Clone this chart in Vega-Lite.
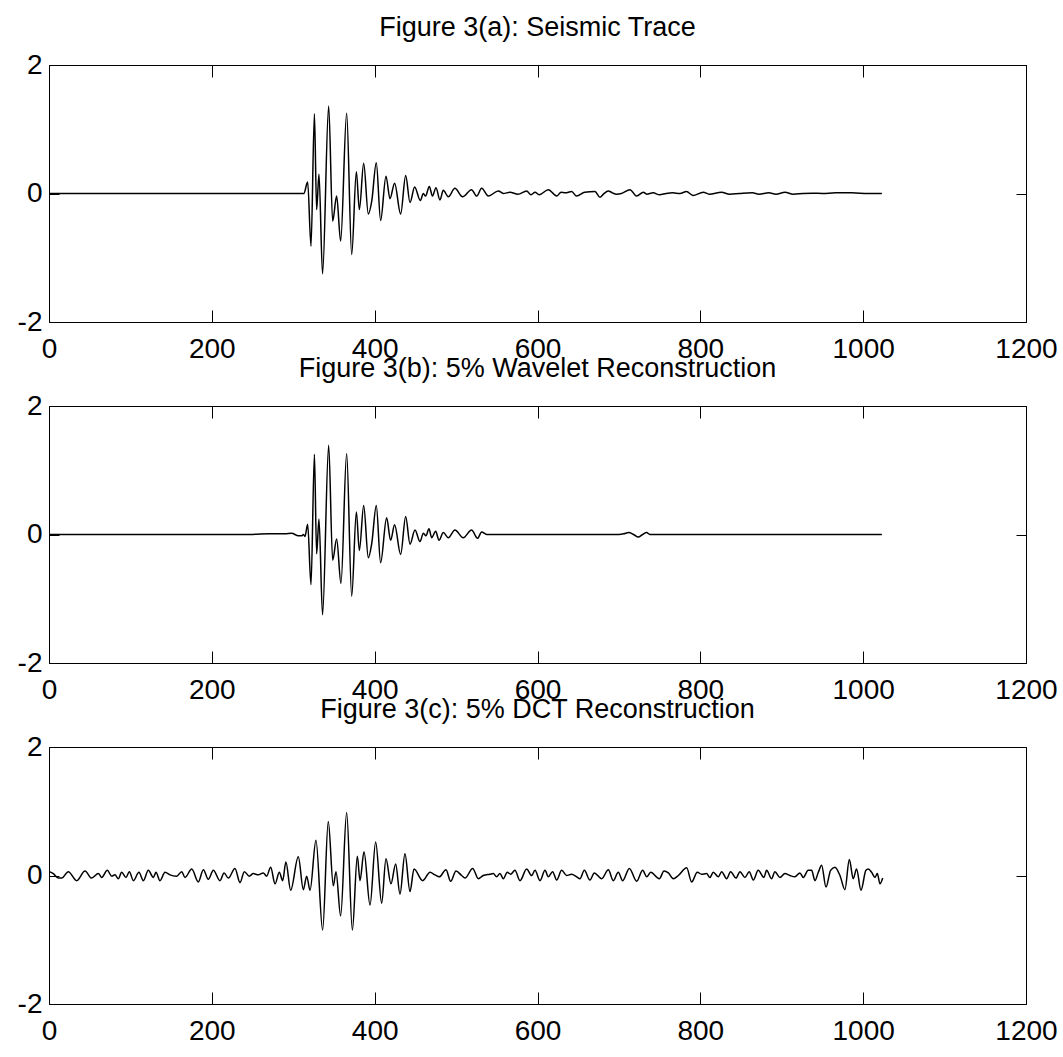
{
  "$schema": "https://vega.github.io/schema/vega-lite/v6.json",
  "background": "white",
  "padding": {"left": 16, "top": 13, "right": 5, "bottom": 5},
  "bounds": "flush",
  "spacing": 84,
  "config": {
    "view": {"stroke": "black", "strokeWidth": 1},
    "font": "Liberation Sans, Arial, sans-serif",
    "axis": {
      "domain": false,
      "grid": false,
      "tickColor": "black",
      "tickWidth": 1,
      "labelColor": "black",
      "labelFontSize": 28,
      "labelFont": "Liberation Sans, Arial, sans-serif",
      "labelFlush": false,
      "labelOverlap": false,
      "labelExpr": "'' + datum.value",
      "title": null
    },
    "title": {
      "font": "Liberation Sans, Arial, sans-serif",
      "fontSize": 27,
      "fontWeight": "normal",
      "color": "black",
      "anchor": "middle",
      "frame": "group",
      "baseline": "alphabetic",
      "offset": 9
    }
  },
  "datasets": {
    "a": [
      {"x": 0, "y": 0}, {"x": 313, "y": 0}, {"x": 317.7, "y": 0.18}, {"x": 321.8, "y": -0.82}, {"x": 326, "y": 1.24}, {"x": 328.7, "y": -0.25}, {"x": 331.6, "y": 0.30}, {"x": 336, "y": -1.25}, {"x": 343.5, "y": 1.36}, {"x": 348.4, "y": -0.43}, {"x": 353.3, "y": -0.04}, {"x": 358.2, "y": -0.74}, {"x": 365.6, "y": 1.25}, {"x": 371.8, "y": -0.95}, {"x": 377.5, "y": 0.34}, {"x": 381.2, "y": -0.25}, {"x": 386.5, "y": 0.47}, {"x": 392.2, "y": -0.32}, {"x": 396.4, "y": -0.12}, {"x": 402, "y": 0.48}, {"x": 407.3, "y": -0.42}, {"x": 413.9, "y": 0.27}, {"x": 418.8, "y": -0.08}, {"x": 424.5, "y": 0.16}, {"x": 431.9, "y": -0.32}, {"x": 438.1, "y": 0.28}, {"x": 443.4, "y": -0.14}, {"x": 449.1, "y": 0.10}, {"x": 456.1, "y": -0.11}, {"x": 459.8, "y": 0}, {"x": 462.5, "y": -0.04}, {"x": 467.1, "y": 0.11}, {"x": 471, "y": -0.04}, {"x": 475.3, "y": 0.09}, {"x": 480.2, "y": -0.10}, {"x": 484.3, "y": 0.05}, {"x": 490.4, "y": -0.05}, {"x": 498.6, "y": 0.08}, {"x": 508, "y": -0.05}, {"x": 519, "y": 0.06}, {"x": 525.3, "y": -0.04}, {"x": 531.4, "y": 0.08}, {"x": 539.6, "y": -0.04}, {"x": 551.9, "y": 0.04}, {"x": 558, "y": 0}, {"x": 566.2, "y": 0.02}, {"x": 576, "y": -0.01}, {"x": 586.7, "y": 0.04}, {"x": 592, "y": -0.02}, {"x": 597, "y": 0.02}, {"x": 602, "y": -0.02}, {"x": 613.3, "y": 0.06}, {"x": 623.5, "y": -0.04}, {"x": 629, "y": 0.02}, {"x": 634, "y": 0.01}, {"x": 642, "y": 0.03}, {"x": 648, "y": -0.04}, {"x": 658, "y": 0.02}, {"x": 670.6, "y": 0.03}, {"x": 676.7, "y": -0.06}, {"x": 681, "y": -0.01}, {"x": 687, "y": 0.04}, {"x": 692, "y": 0.01}, {"x": 697, "y": -0.01}, {"x": 703, "y": 0}, {"x": 713.6, "y": 0.06}, {"x": 721.8, "y": -0.04}, {"x": 730, "y": 0.02}, {"x": 734, "y": -0.01}, {"x": 742, "y": 0.01}, {"x": 750, "y": -0.02}, {"x": 758, "y": 0}, {"x": 766, "y": 0.01}, {"x": 775, "y": 0}, {"x": 783, "y": 0.03}, {"x": 791, "y": -0.03}, {"x": 803.6, "y": 0.02}, {"x": 811, "y": -0.01}, {"x": 826, "y": 0.02}, {"x": 836, "y": -0.01}, {"x": 848, "y": 0}, {"x": 864, "y": 0.01}, {"x": 872, "y": -0.01}, {"x": 884, "y": 0.01}, {"x": 893, "y": -0.01}, {"x": 904, "y": 0.02}, {"x": 914, "y": -0.01}, {"x": 926, "y": 0}, {"x": 938, "y": 0.005}, {"x": 950, "y": 0}, {"x": 966, "y": 0.01}, {"x": 986, "y": 0.01}, {"x": 1006, "y": 0}, {"x": 1023, "y": 0}
    ],
    "b": [
      {"x": 0, "y": 0}, {"x": 240, "y": 0}, {"x": 270, "y": 0.01}, {"x": 290, "y": 0.01}, {"x": 298, "y": 0.02}, {"x": 306.2, "y": -0.02}, {"x": 310.3, "y": -0.02}, {"x": 312.4, "y": 0}, {"x": 314.4, "y": -0.03}, {"x": 317.7, "y": 0.16}, {"x": 321.8, "y": -0.78}, {"x": 326, "y": 1.25}, {"x": 328.7, "y": -0.30}, {"x": 331.6, "y": 0.24}, {"x": 336, "y": -1.25}, {"x": 343.5, "y": 1.39}, {"x": 348.4, "y": -0.40}, {"x": 353.3, "y": -0.07}, {"x": 358.6, "y": -0.76}, {"x": 365.6, "y": 1.26}, {"x": 371.8, "y": -0.96}, {"x": 377.5, "y": 0.35}, {"x": 381.2, "y": -0.25}, {"x": 386.5, "y": 0.45}, {"x": 392.2, "y": -0.36}, {"x": 396.4, "y": -0.14}, {"x": 402, "y": 0.45}, {"x": 407.3, "y": -0.44}, {"x": 414.7, "y": 0.26}, {"x": 419.6, "y": -0.09}, {"x": 424.5, "y": 0.15}, {"x": 431.9, "y": -0.31}, {"x": 438.1, "y": 0.28}, {"x": 443.4, "y": -0.15}, {"x": 449.5, "y": 0.07}, {"x": 455.7, "y": -0.11}, {"x": 459.8, "y": 0.02}, {"x": 463, "y": -0.02}, {"x": 466.7, "y": 0.09}, {"x": 470, "y": -0.05}, {"x": 474.9, "y": 0.05}, {"x": 479, "y": -0.09}, {"x": 484.3, "y": 0.03}, {"x": 490.4, "y": -0.05}, {"x": 498.6, "y": 0.07}, {"x": 508.8, "y": -0.05}, {"x": 519, "y": 0.07}, {"x": 526.4, "y": -0.06}, {"x": 531.4, "y": 0.04}, {"x": 537.5, "y": 0}, {"x": 600, "y": 0}, {"x": 700, "y": 0}, {"x": 706, "y": 0.01}, {"x": 712, "y": 0.03}, {"x": 718, "y": 0}, {"x": 723.8, "y": -0.04}, {"x": 729, "y": 0}, {"x": 734, "y": 0.03}, {"x": 738, "y": 0}, {"x": 850, "y": 0}, {"x": 1023, "y": 0}
    ],
    "c": [
      {"x": 0.4, "y": 0.06}, {"x": 5.3, "y": 0.03}, {"x": 11.5, "y": -0.04}, {"x": 15.6, "y": -0.04}, {"x": 23.7, "y": 0.06}, {"x": 34, "y": -0.08}, {"x": 44.2, "y": 0.07}, {"x": 52.4, "y": -0.04}, {"x": 60.6, "y": 0.03}, {"x": 64.7, "y": -0.03}, {"x": 71.6, "y": 0.08}, {"x": 77, "y": -0.01}, {"x": 81, "y": 0.01}, {"x": 85.2, "y": -0.05}, {"x": 89.2, "y": 0.05}, {"x": 94.6, "y": -0.03}, {"x": 98.7, "y": 0.06}, {"x": 103.6, "y": -0.08}, {"x": 110.5, "y": 0.05}, {"x": 115.9, "y": -0.08}, {"x": 122, "y": 0.08}, {"x": 128.2, "y": -0.03}, {"x": 131.4, "y": 0.05}, {"x": 136.3, "y": -0.08}, {"x": 142.5, "y": 0.05}, {"x": 148.6, "y": 0.01}, {"x": 156.8, "y": -0.01}, {"x": 163, "y": 0.06}, {"x": 167, "y": -0.03}, {"x": 175.3, "y": 0.10}, {"x": 183.4, "y": -0.10}, {"x": 189.6, "y": 0.09}, {"x": 195.7, "y": -0.06}, {"x": 201.9, "y": 0.08}, {"x": 210, "y": -0.08}, {"x": 215, "y": 0.04}, {"x": 220.3, "y": -0.04}, {"x": 228.4, "y": 0.11}, {"x": 234.6, "y": -0.11}, {"x": 239.9, "y": 0.06}, {"x": 246, "y": -0.01}, {"x": 250.9, "y": 0.03}, {"x": 257, "y": 0.01}, {"x": 263.2, "y": 0.04}, {"x": 267.3, "y": -0.01}, {"x": 272.3, "y": 0.13}, {"x": 277.6, "y": -0.13}, {"x": 282.9, "y": 0.05}, {"x": 287, "y": -0.08}, {"x": 291, "y": 0.21}, {"x": 296.8, "y": -0.23}, {"x": 306.2, "y": 0.29}, {"x": 312.4, "y": -0.22}, {"x": 316.5, "y": -0.01}, {"x": 320.6, "y": -0.23}, {"x": 327.9, "y": 0.55}, {"x": 336.1, "y": -0.85}, {"x": 343, "y": 0.84}, {"x": 349.2, "y": -0.16}, {"x": 352.5, "y": 0.06}, {"x": 358.2, "y": -0.63}, {"x": 365.6, "y": 0.98}, {"x": 372.6, "y": -0.85}, {"x": 378.7, "y": 0.30}, {"x": 382, "y": -0.08}, {"x": 386.9, "y": 0.37}, {"x": 394.3, "y": -0.46}, {"x": 401.2, "y": 0.52}, {"x": 408.6, "y": -0.43}, {"x": 413.9, "y": 0.26}, {"x": 420, "y": -0.13}, {"x": 425.8, "y": 0.18}, {"x": 431.1, "y": -0.29}, {"x": 437.2, "y": 0.34}, {"x": 443.4, "y": -0.25}, {"x": 448.3, "y": 0.10}, {"x": 459, "y": -0.08}, {"x": 468, "y": 0.05}, {"x": 474.1, "y": 0.01}, {"x": 479.4, "y": -0.02}, {"x": 487.6, "y": 0.09}, {"x": 493.3, "y": -0.09}, {"x": 499.9, "y": 0.07}, {"x": 506.8, "y": 0}, {"x": 511, "y": -0.04}, {"x": 520.4, "y": 0.11}, {"x": 527.3, "y": -0.05}, {"x": 533.4, "y": 0}, {"x": 541.6, "y": 0.02}, {"x": 545.7, "y": 0.03}, {"x": 549.8, "y": -0.02}, {"x": 553.9, "y": 0.03}, {"x": 558, "y": -0.05}, {"x": 562.9, "y": 0.05}, {"x": 567, "y": 0.02}, {"x": 572.3, "y": 0.08}, {"x": 578.5, "y": -0.08}, {"x": 586.7, "y": 0.10}, {"x": 592.8, "y": 0}, {"x": 596.9, "y": 0.08}, {"x": 603.1, "y": -0.08}, {"x": 609.2, "y": 0.08}, {"x": 613.3, "y": -0.02}, {"x": 618.6, "y": 0.06}, {"x": 623.5, "y": -0.07}, {"x": 629.7, "y": 0.08}, {"x": 635.8, "y": 0}, {"x": 641.9, "y": 0.02}, {"x": 648.1, "y": -0.02}, {"x": 652.2, "y": -0.05}, {"x": 657.5, "y": 0.08}, {"x": 664.4, "y": -0.07}, {"x": 669.8, "y": 0.04}, {"x": 678.8, "y": -0.05}, {"x": 687, "y": 0.09}, {"x": 693.1, "y": -0.08}, {"x": 699.2, "y": 0.05}, {"x": 704.6, "y": -0.08}, {"x": 712.8, "y": 0.11}, {"x": 721.8, "y": -0.09}, {"x": 729.2, "y": 0.08}, {"x": 734.1, "y": -0.02}, {"x": 739, "y": 0.05}, {"x": 749.6, "y": -0.05}, {"x": 755.4, "y": 0.07}, {"x": 760.7, "y": 0.04}, {"x": 766.8, "y": -0.05}, {"x": 773, "y": 0}, {"x": 783.2, "y": 0.12}, {"x": 789.3, "y": -0.10}, {"x": 796.3, "y": 0.05}, {"x": 801.6, "y": 0.02}, {"x": 807.7, "y": 0.03}, {"x": 811.8, "y": -0.03}, {"x": 815.9, "y": 0.05}, {"x": 822.1, "y": -0.02}, {"x": 826.2, "y": 0.06}, {"x": 832.3, "y": -0.05}, {"x": 837.2, "y": 0.06}, {"x": 843.8, "y": -0.04}, {"x": 848.7, "y": 0.06}, {"x": 854.8, "y": -0.03}, {"x": 860.1, "y": 0.06}, {"x": 865, "y": -0.07}, {"x": 871.1, "y": 0.08}, {"x": 878.1, "y": -0.03}, {"x": 881.4, "y": 0.08}, {"x": 887.5, "y": -0.05}, {"x": 891.6, "y": 0.06}, {"x": 897.8, "y": -0.03}, {"x": 903.9, "y": 0.03}, {"x": 910, "y": 0}, {"x": 916.2, "y": -0.02}, {"x": 922.3, "y": 0.04}, {"x": 926.4, "y": -0.03}, {"x": 932.5, "y": 0.08}, {"x": 936.7, "y": 0.08}, {"x": 940.8, "y": -0.08}, {"x": 944.9, "y": 0.05}, {"x": 949, "y": 0.16}, {"x": 954.3, "y": -0.18}, {"x": 960, "y": 0.08}, {"x": 965.4, "y": 0.13}, {"x": 971.5, "y": 0}, {"x": 977.6, "y": -0.22}, {"x": 983, "y": 0.25}, {"x": 987.8, "y": -0.05}, {"x": 991.9, "y": 0.10}, {"x": 997.3, "y": -0.23}, {"x": 1003.4, "y": 0.08}, {"x": 1006.3, "y": 0.10}, {"x": 1010.4, "y": 0.05}, {"x": 1014.5, "y": -0.03}, {"x": 1017.4, "y": 0.03}, {"x": 1020.6, "y": -0.13}, {"x": 1024, "y": -0.04}
    ]
  },
  "vconcat": [
    {
      "title": "Figure 3(a): Seismic Trace",
      "width": 977,
      "height": 257,
      "data": {"name": "a"},
      "layer": [
        {
          "mark": {"type": "line", "color": "black", "strokeWidth": 1.5, "interpolate": "monotone"},
          "encoding": {
            "x": {"field": "x", "type": "quantitative", "scale": {"domain": [0, 1200], "nice": false, "zero": false},
                  "axis": {"orient": "bottom", "values": [0, 200, 400, 600, 800, 1000, 1200], "tickSize": -12, "labelPadding": 25, "labelAngle": 0}},
            "y": {"field": "y", "type": "quantitative", "scale": {"domain": [-2, 2], "nice": false, "zero": false},
                  "axis": {"orient": "left", "values": [-2, 0, 2], "tickSize": -10, "labelPadding": 17}}
          }
        },
        {
          "mark": {"type": "line", "strokeOpacity": 0},
          "encoding": {
            "x": {"field": "x", "type": "quantitative", "axis": {"orient": "top", "values": [0, 200, 400, 600, 800, 1000, 1200], "tickSize": -12, "labels": false}},
            "y": {"field": "y", "type": "quantitative", "axis": {"orient": "right", "values": [-2, 0, 2], "tickSize": -10, "labels": false}}
          }
        }
      ],
      "resolve": {"axis": {"x": "independent", "y": "independent"}}
    },
    {
      "title": "Figure 3(b): 5% Wavelet Reconstruction",
      "width": 977,
      "height": 257,
      "data": {"name": "b"},
      "layer": [
        {
          "mark": {"type": "line", "color": "black", "strokeWidth": 1.5, "interpolate": "monotone"},
          "encoding": {
            "x": {"field": "x", "type": "quantitative", "scale": {"domain": [0, 1200], "nice": false, "zero": false},
                  "axis": {"orient": "bottom", "values": [0, 200, 400, 600, 800, 1000, 1200], "tickSize": -12, "labelPadding": 25, "labelAngle": 0}},
            "y": {"field": "y", "type": "quantitative", "scale": {"domain": [-2, 2], "nice": false, "zero": false},
                  "axis": {"orient": "left", "values": [-2, 0, 2], "tickSize": -10, "labelPadding": 17}}
          }
        },
        {
          "mark": {"type": "line", "strokeOpacity": 0},
          "encoding": {
            "x": {"field": "x", "type": "quantitative", "axis": {"orient": "top", "values": [0, 200, 400, 600, 800, 1000, 1200], "tickSize": -12, "labels": false}},
            "y": {"field": "y", "type": "quantitative", "axis": {"orient": "right", "values": [-2, 0, 2], "tickSize": -10, "labels": false}}
          }
        }
      ],
      "resolve": {"axis": {"x": "independent", "y": "independent"}}
    },
    {
      "title": "Figure 3(c): 5% DCT Reconstruction",
      "width": 977,
      "height": 257,
      "data": {"name": "c"},
      "layer": [
        {
          "mark": {"type": "line", "color": "black", "strokeWidth": 1.5, "interpolate": "monotone"},
          "encoding": {
            "x": {"field": "x", "type": "quantitative", "scale": {"domain": [0, 1200], "nice": false, "zero": false},
                  "axis": {"orient": "bottom", "values": [0, 200, 400, 600, 800, 1000, 1200], "tickSize": -12, "labelPadding": 25, "labelAngle": 0}},
            "y": {"field": "y", "type": "quantitative", "scale": {"domain": [-2, 2], "nice": false, "zero": false},
                  "axis": {"orient": "left", "values": [-2, 0, 2], "tickSize": -10, "labelPadding": 17}}
          }
        },
        {
          "mark": {"type": "line", "strokeOpacity": 0},
          "encoding": {
            "x": {"field": "x", "type": "quantitative", "axis": {"orient": "top", "values": [0, 200, 400, 600, 800, 1000, 1200], "tickSize": -12, "labels": false}},
            "y": {"field": "y", "type": "quantitative", "axis": {"orient": "right", "values": [-2, 0, 2], "tickSize": -10, "labels": false}}
          }
        }
      ],
      "resolve": {"axis": {"x": "independent", "y": "independent"}}
    }
  ]
}
